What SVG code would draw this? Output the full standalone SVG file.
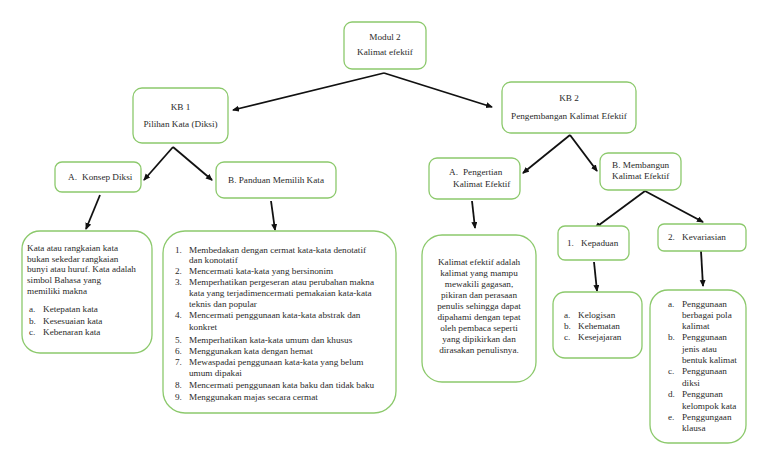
<svg xmlns="http://www.w3.org/2000/svg" width="768" height="466" viewBox="0 0 768 466">
<style>
  .box{fill:#ffffff;stroke:#8cc96c;stroke-width:1.3}
  text{font-family:"Liberation Serif","Times New Roman",serif;font-size:9.2px;fill:#2a2a2a}
  .c{text-anchor:middle}
  .conn line{stroke:#111;stroke-width:1.8;marker-end:url(#ah)}
</style>
<defs>
  <marker id="ah" markerUnits="userSpaceOnUse" markerWidth="8" markerHeight="8" refX="6" refY="3" orient="auto">
    <path d="M0,0 L7,3 L0,6 Z" fill="#111"/>
  </marker>
</defs>
<rect width="768" height="466" fill="#ffffff"/>

<g id="connectors" class="conn">
  <line x1="384" y1="73" x2="233" y2="110"/>
  <line x1="384" y1="73" x2="492" y2="107"/>
  <line x1="173" y1="147" x2="144" y2="180"/>
  <line x1="173" y1="147" x2="212" y2="180"/>
  <line x1="570" y1="135" x2="523" y2="173"/>
  <line x1="570" y1="135" x2="597" y2="171"/>
  <line x1="100" y1="195" x2="86" y2="229"/>
  <line x1="271" y1="201" x2="275" y2="230"/>
  <line x1="472" y1="201" x2="475" y2="228"/>
  <line x1="645" y1="191" x2="595" y2="228"/>
  <line x1="645" y1="191" x2="703" y2="222"/>
  <line x1="594" y1="262" x2="597" y2="291"/>
  <line x1="701" y1="251" x2="703" y2="286"/>
</g>

<g id="modul2">
  <rect class="box" x="344" y="22" width="82" height="47" rx="8"/>
  <text class="c" x="385" y="40">Modul 2</text>
  <text class="c" x="385" y="55">Kalimat efektif</text>
</g>

<g id="kb1">
  <rect class="box" x="133" y="88" width="95" height="55" rx="9"/>
  <text class="c" x="180.5" y="110">KB 1</text>
  <text class="c" x="180.5" y="127">Pilihan Kata (Diksi)</text>
</g>

<g id="kb2">
  <rect class="box" x="502" y="82" width="134" height="51" rx="9"/>
  <text class="c" x="569" y="101">KB 2</text>
  <text class="c" x="569" y="119">Pengembangan Kalimat Efektif</text>
</g>

<g id="konsep-diksi">
  <rect class="box" x="55" y="162" width="86" height="30" rx="7"/>
  <text x="68" y="180">A.</text>
  <text x="82" y="180">Konsep Diksi</text>
</g>

<g id="panduan">
  <rect class="box" x="216" y="162" width="120" height="36" rx="8"/>
  <text class="c" x="276" y="183">B. Panduan Memilih Kata</text>
</g>

<g id="pengertian">
  <rect class="box" x="429" y="158" width="91" height="41" rx="8"/>
  <text x="449" y="175">A.</text>
  <text x="463" y="175">Pengertian</text>
  <text x="453" y="187">Kalimat Efektif</text>
</g>

<g id="membangun">
  <rect class="box" x="600" y="153" width="81" height="37" rx="8"/>
  <text x="612" y="168">B. Membangun</text>
  <text x="612" y="179">Kalimat Efektif</text>
</g>

<g id="kepaduan">
  <rect class="box" x="558" y="226" width="71" height="34" rx="7"/>
  <text x="567" y="246">1.</text>
  <text x="581" y="246">Kepaduan</text>
</g>

<g id="kevariasian">
  <rect class="box" x="658" y="224" width="88" height="27" rx="6"/>
  <text x="668" y="240">2.</text>
  <text x="682" y="240">Kevariasian</text>
</g>

<g id="konsep-detail">
  <rect class="box" x="22" y="231" width="130" height="122" rx="18"/>
  <text x="27" y="251">Kata atau rangkaian kata</text>
  <text x="27" y="261.5">bukan sekedar rangkaian</text>
  <text x="27" y="272">bunyi atau huruf. Kata adalah</text>
  <text x="27" y="282.5">simbol Bahasa yang</text>
  <text x="27" y="293.5">memiliki makna</text>
  <text x="29" y="312">a.</text><text x="43" y="312">Ketepatan kata</text>
  <text x="29" y="324">b.</text><text x="43" y="324">Kesesuaian kata</text>
  <text x="29" y="335">c.</text><text x="43" y="335">Kebenaran kata</text>
</g>

<g id="panduan-detail">
  <rect class="box" x="163" y="231" width="233" height="182" rx="22"/>
  <text x="175" y="253">1.</text><text x="189" y="253">Membedakan dengan cermat kata-kata denotatif</text>
  <text x="189" y="263">dan konotatif</text>
  <text x="175" y="274">2.</text><text x="189" y="274">Mencermati kata-kata yang bersinonim</text>
  <text x="175" y="285">3.</text><text x="189" y="285">Memperhatikan pergeseran atau perubahan makna</text>
  <text x="189" y="296">kata yang terjadimencermati pemakaian kata-kata</text>
  <text x="189" y="307">teknis dan popular</text>
  <text x="175" y="318">4.</text><text x="189" y="318">Mencermati penggunaan kata-kata abstrak dan</text>
  <text x="189" y="330">konkret</text>
  <text x="175" y="343">5.</text><text x="189" y="343">Memperhatikan kata-kata umum dan khusus</text>
  <text x="175" y="354">6.</text><text x="189" y="354">Menggunakan kata dengan hemat</text>
  <text x="175" y="365">7.</text><text x="189" y="365">Mewaspadai penggunaan kata-kata yang belum</text>
  <text x="189" y="376">umum dipakai</text>
  <text x="175" y="388">8.</text><text x="189" y="388">Mencermati penggunaan kata baku dan tidak baku</text>
  <text x="175" y="400">9.</text><text x="189" y="400">Menggunakan majas secara cermat</text>
</g>

<g id="pengertian-detail">
  <rect class="box" x="422" y="235" width="114" height="147" rx="20"/>
  <text class="c" x="479" y="265">Kalimat efektif adalah</text>
  <text class="c" x="479" y="276">kalimat yang mampu</text>
  <text class="c" x="479" y="287">mewakili gagasan,</text>
  <text class="c" x="479" y="298">pikiran dan perasaan</text>
  <text class="c" x="479" y="309">penulis sehingga dapat</text>
  <text class="c" x="479" y="320">dipahami dengan tepat</text>
  <text class="c" x="479" y="331">oleh pembaca seperti</text>
  <text class="c" x="479" y="342">yang dipikirkan dan</text>
  <text class="c" x="479" y="353">dirasakan penulisnya.</text>
</g>

<g id="kepaduan-detail">
  <rect class="box" x="553" y="292" width="89" height="66" rx="12"/>
  <text x="564" y="318">a.</text><text x="578" y="318">Kelogisan</text>
  <text x="564" y="329">b.</text><text x="578" y="329">Kehematan</text>
  <text x="564" y="340">c.</text><text x="578" y="340">Kesejajaran</text>
</g>

<g id="kevariasian-detail">
  <rect class="box" x="650" y="290" width="96" height="153" rx="18"/>
  <text x="668" y="307">a.</text><text x="682" y="307">Penggunaan</text>
  <text x="682" y="318">berbagai pola</text>
  <text x="682" y="329">kalimat</text>
  <text x="668" y="340">b.</text><text x="682" y="340">Penggunaan</text>
  <text x="682" y="352">jenis atau</text>
  <text x="682" y="363">bentuk kalimat</text>
  <text x="668" y="374">c.</text><text x="682" y="374">Penggunaan</text>
  <text x="682" y="386">diksi</text>
  <text x="668" y="397">d.</text><text x="682" y="397">Penggunan</text>
  <text x="682" y="409">kelompok kata</text>
  <text x="668" y="420">e.</text><text x="682" y="420">Penggungaan</text>
  <text x="682" y="431">klausa</text>
</g>
</svg>
